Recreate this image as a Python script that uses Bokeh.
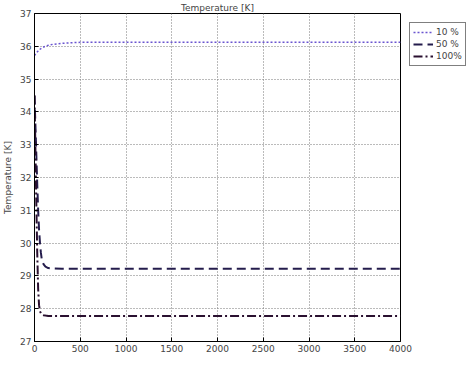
from bokeh.plotting import figure
from bokeh.models import Legend, LegendItem, FixedTicker, Range1d
from bokeh.embed import file_html
from bokeh.resources import INLINE

# ---- data ----
t_10 = [0, 20, 40, 60, 80, 100, 150, 200, 300, 400, 500, 600, 1000, 2000, 3000, 4000]
temp_10 = [35.72, 35.80, 35.86, 35.91, 35.95, 35.98, 36.03, 36.06, 36.09, 36.11, 36.12, 36.12, 36.12, 36.12, 36.12, 36.12]

t_fast = [0, 10, 20, 30, 40, 50, 60, 70, 80, 100, 120, 150, 200, 300, 500, 1000, 2000, 3000, 4000]
temp_50 = [34.5, 33.6, 32.7, 31.8, 31.0, 30.4, 30.0, 29.7, 29.5, 29.35, 29.28, 29.24, 29.23, 29.22, 29.22, 29.22, 29.22, 29.22, 29.22]
temp_100 = [34.5, 32.9, 31.2, 29.7, 28.6, 28.1, 27.92, 27.86, 27.83, 27.80, 27.79, 27.78, 27.78, 27.78, 27.78, 27.78, 27.78, 27.78, 27.78]

labels = ["10 %", "50 %", "100%"]
x_ticks = [0, 500, 1000, 1500, 2000, 2500, 3000, 3500, 4000]
y_ticks = [27, 28, 29, 30, 31, 32, 33, 34, 35, 36, 37]

FONT = "DejaVu Sans"
FW, FH = 366, 328

p = figure(width=None, height=None, frame_width=FW, frame_height=FH,
           output_backend="svg", toolbar_location=None,
           x_range=Range1d(0, 4000), y_range=Range1d(27, 37),
           title="Temperature [K]", min_border_left=0, min_border_top=0,
           min_border_bottom=0, min_border_right=0)

p.title.align = "center"
p.title.text_font = FONT
p.title.text_font_size = "9px"
p.title.text_font_style = "normal"
p.title.standoff = 1
p.title.offset = 0

p.outline_line_color = "black"
p.outline_line_width = 1

for ax in (p.xaxis[0], p.yaxis[0]):
    ax.major_label_text_font = FONT
    ax.major_label_text_font_size = "9px"
    ax.major_tick_in = 4
    ax.major_tick_out = 0
    ax.minor_tick_line_color = None
    ax.axis_line_color = "black"
    ax.major_label_standoff = 3

p.xaxis.ticker = FixedTicker(ticks=x_ticks)
p.yaxis.ticker = FixedTicker(ticks=y_ticks)
p.yaxis.axis_label = "Temperature [K]"
p.yaxis.axis_label_text_font = FONT
p.yaxis.axis_label_text_font_size = "9px"
p.yaxis.axis_label_text_font_style = "normal"
p.yaxis.axis_label_standoff = 4

p.grid.grid_line_color = "#777777"
p.grid.grid_line_dash = "1 2"
p.grid.grid_line_width = 1

r10 = p.line(t_10, temp_10, line_color="#6a55d0", line_width=1.5, line_dash="2 2")
r50 = p.line(t_fast, temp_50, line_color="#241c4c", line_width=2, line_dash="9 5")
r100 = p.line(t_fast, temp_100, line_color="#2a1030", line_width=2, line_dash="9 3 2 3")

legend = Legend(items=[LegendItem(label=labels[0], renderers=[r10]),
                       LegendItem(label=labels[1], renderers=[r50]),
                       LegendItem(label=labels[2], renderers=[r100])],
                location="top_left")
legend.label_text_font = FONT
legend.label_text_font_size = "9px"
legend.border_line_color = "black"
legend.border_line_width = 1
legend.glyph_width = 20
legend.glyph_height = 12
legend.label_height = 12
legend.label_width = 10
legend.spacing = 0
legend.padding = 3
legend.margin = 9
legend.label_standoff = 3
legend.background_fill_color = "white"
p.add_layout(legend, "right")

open("out.html", "w").write(file_html(p, INLINE))
